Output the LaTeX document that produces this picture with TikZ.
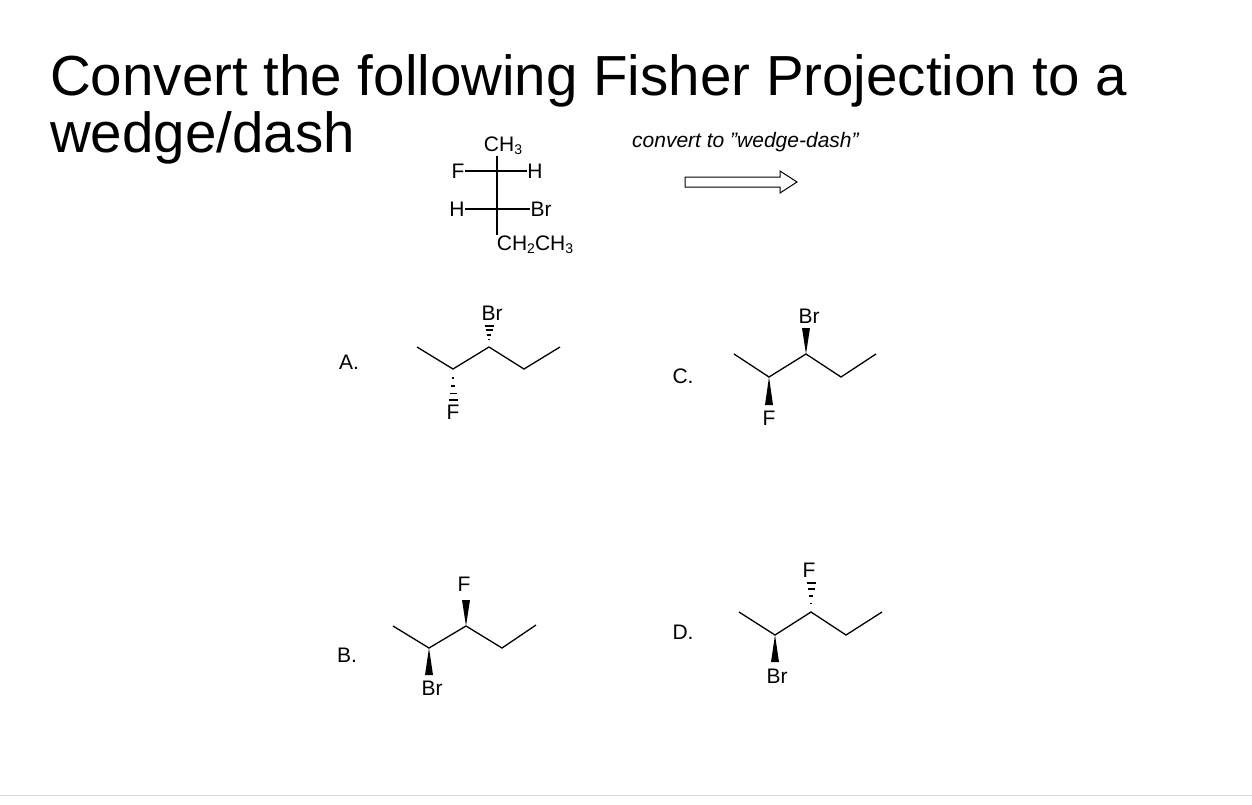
\documentclass[tikz,border=0pt]{standalone}
\usepackage{fontspec}
\setmainfont{Liberation Sans}
\usetikzlibrary{calc}
\newcommand{\sbs}[1]{\raisebox{-0.3ex}{\fontsize{14}{14}\selectfont #1}}
\begin{document}
\begin{tikzpicture}[x=1pt,y=-1pt,
  lbl/.style={inner sep=0pt,font=\fontsize{21}{21}\selectfont},
  bond/.style={line width=1.3pt},
  ]
\useasboundingbox (0,0) rectangle (1252,804);
\fill[white] (0,0) rectangle (1252,804);
\node[anchor=base west,inner sep=0pt,font=\fontsize{56.5}{56.5}\selectfont] (t1) at (50,95) {Convert the following Fisher Projection to a};
\node[anchor=base west,inner sep=0pt,font=\fontsize{56.5}{56.5}\selectfont] (t2) at (50,152) {wedge/dash};
% Fisher
\node[lbl] (ch3) at (503,146) {CH\sbs{3}};
\node[lbl] (f1) at (458,171) {F};
\node[lbl] (h1) at (535,171) {H};
\node[lbl] (h2) at (457,209) {H};
\node[lbl] (br1) at (541,209) {Br};
\node[lbl] (et) at (535,245) {CH\sbs{2}CH\sbs{3}};
\draw[bond] (497,156) -- (497,235);
\draw[bond] (f1.east) -- (h1.west);
\draw[bond] (h2.east) -- (br1.west);
\node[anchor=west,inner sep=0pt,font=\fontsize{21}{21}\selectfont\itshape] (cv) at (632,142) {convert to \char"22 wedge-dash\char"22};
\draw[line width=1pt,fill=white] (685,177) -- (780,177) -- (780,171) -- (797,182) -- (780,193) -- (780,187) -- (685,187) -- cycle;
% helpers
\newcommand{\wdg}[2]{\fill #1 -- ($#2+(4,0)$) -- ($#2+(-4,0)$) -- cycle;}
\newcommand{\hsh}[2]{\foreach \t in {0.15,0.45,0.75,1.0}{\draw[line width=1.6pt] ($#1!\t!#2+(-4*\t-0.5,0)$) -- ($#1!\t!#2+(4*\t+0.5,0)$);}}
% A
\node[lbl] (la) at (349,362) {A.};
\draw[bond] (417,347) -- (453,369) -- (489,347) -- (524,369) -- (560,347);
\hsh{(453,374)}{(453,400)}
\node[lbl] (fa) at (453,412) {F};
\hsh{(489,342)}{(489,326)}
\node[lbl] (bra) at (492,313) {Br};
% C
\node[lbl] (lc) at (683,376) {C.};
\draw[bond] (734,354) -- (769,377) -- (806,354) -- (841,377) -- (876,354);
\wdg{(769,377)}{(769,405)}
\node[lbl] (fc) at (769,418) {F};
\wdg{(806,354)}{(806,328)}
\node[lbl] (brc) at (809,316) {Br};
% B
\node[lbl] (lb) at (347,655) {B.};
\draw[bond] (393,626) -- (429,648) -- (466,626) -- (502,648) -- (536,625);
\wdg{(429,648)}{(429,675)}
\node[lbl] (brb) at (432,688) {Br};
\wdg{(466,626)}{(466,600)}
\node[lbl] (fb) at (464,584) {F};
% D
\node[lbl] (ld) at (683,632) {D.};
\draw[bond] (739,612) -- (775,635) -- (811,612) -- (846,635) -- (882,612);
\wdg{(775,635)}{(775,662)}
\node[lbl] (brd) at (777,676) {Br};
\hsh{(811,607)}{(811,583)}
\node[lbl] (fd) at (809,570) {F};
\draw[gray!30,line width=0.8pt] (0,795) -- (1252,795);
\end{tikzpicture}
\end{document}
